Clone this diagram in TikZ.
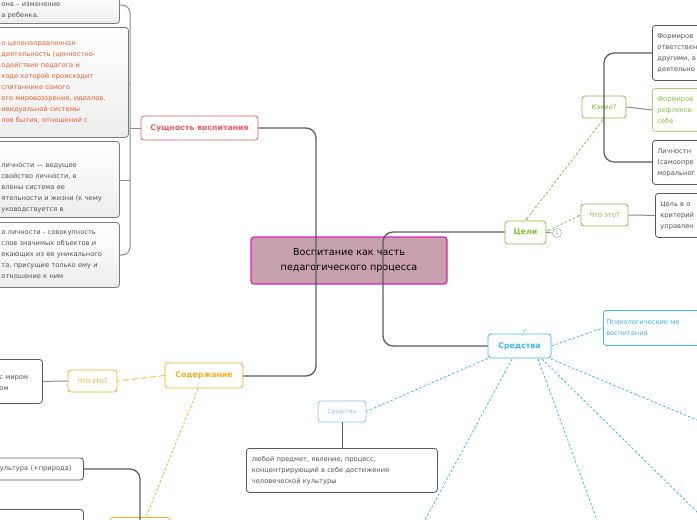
\documentclass[tikz,border=0pt]{standalone}
\usepackage{fontspec}
\setmainfont{DejaVu Sans}
\usetikzlibrary{arrows.meta}
\definecolor{cred}{HTML}{F05A5A}
\definecolor{corg}{HTML}{E8602C}
\definecolor{cgreen}{HTML}{86BE3C}
\definecolor{cblue}{HTML}{3DB5EE}
\definecolor{clblue}{HTML}{8EC4E8}
\definecolor{cyel}{HTML}{F8AE1E}
\definecolor{cmag}{HTML}{E020B8}
\definecolor{cfill}{HTML}{C6A0AC}
\definecolor{cline}{HTML}{565B61}
\definecolor{ctext}{HTML}{505458}
\tikzset{
  every node/.style={font=\fontsize{6.7}{11}\selectfont},
  gbox/.style={draw=cline!80, line width=0.8pt, rounded corners=3pt, top color=white, bottom color=gray!14, anchor=north west, align=left, inner ysep=2pt, text=ctext},
  wbox/.style={draw=cline, line width=0.8pt, rounded corners=3pt, fill=white, anchor=north west, align=left, inner ysep=2pt, text=ctext},
  tbox/.style={draw=#1, line width=0.8pt, rounded corners=3pt, fill=white, text=#1, inner sep=1pt},
  trunk/.style={draw=cline, line width=1.3pt, rounded corners=10pt},
  thin/.style={draw=cline!70, line width=1pt, rounded corners=8pt},
  dsh/.style={draw=#1, line width=0.8pt, dash pattern=on 2.5pt off 2pt},
}
\begin{document}
\begin{tikzpicture}[x=1pt,y=-1pt]
\useasboundingbox (0,0) rectangle (697,520);
% central
\node[draw=cmag, line width=1.2pt, fill=cfill, rounded corners=3pt, minimum width=196pt, minimum height=47pt, align=center, font=\fontsize{9.6}{15}\selectfont] (c) at (349,260.5) {Воспитание как часть\\педагогического процесса};
% trunks
\draw[trunk] (258,128) -- (316,128) -- (316,376) -- (243,376);
\draw[trunk] (505,232) -- (383,232) -- (383,346) -- (488,346);
% Сущность
\node[tbox=cred, minimum width=117pt, minimum height=24pt, font=\fontsize{7.8}{9}\selectfont\bfseries] (s) at (199.5,128) {Сущность воспитания};
% left boxes
\node[gbox, minimum width=139pt, minimum height=30pt, inner xsep=21pt, text width=97pt] (l1) at (-20,-7) {\\[-2pt]она – изменение\\а ребенка.};
\node[gbox, minimum width=148pt, minimum height=110pt, inner xsep=21pt, text width=106pt, text=corg] (l2) at (-20,27) {о целенаправленная\\деятельность (ценностно-\\одействие педагога и\\ ходе которой происходит\\спитаннике самого\\его мировоззрения, идеалов,\\ивидуальной системы\\лов бытия, отношений с\\ };
\node[gbox, minimum width=139pt, minimum height=76pt, inner xsep=21pt, text width=97pt, text depth=0pt] (l3) at (-20,141) {\parbox{130pt}{личности — ведущее\\ свойство личности, в\\влены система ее\\ятельности и  жизни (к чему\\уководствуется в\\ }};
\node[gbox, minimum width=139pt, minimum height=65pt, inner xsep=21pt, text width=97pt] (l4) at (-20,222) {\parbox{130pt}{а личности - совокупность\\слов значимых объектов и\\екающих из ее уникального\\та, присущие только ему и\\ отношение к ним}};
\draw[thin] (119,5) -- (130,5) -- (130,255) -- (119,255);
\draw[thin] (128,83) -- (130,83);
\draw[thin] (119,180) -- (130,180);
\draw[thin] (130,128) -- (141,128);
% Цели
\node[tbox=cgreen, minimum width=41pt, minimum height=23pt, font=\fontsize{7.8}{9}\selectfont\bfseries] (g) at (525.5,232.5) {Цели};
\node[draw=gray!60, circle, line width=0.6pt, inner sep=0pt, minimum size=9pt, text=gray, font=\fontsize{4.5}{5}\selectfont] (n1) at (557,233) {1};
\draw[cline, line width=0.6pt] (g.east) -- (n1.west);
\node[tbox=cgreen, minimum width=47pt, minimum height=22pt] (q1) at (604.5,215) {Что это?};
\node[tbox=cgreen, minimum width=44pt, minimum height=22pt] (k) at (604,107) {Какие?};
\draw[dsh=cgreen, {Latex[length=2.5pt]}-{Latex[length=2.5pt]}] (g.north) -- (k.south);
\draw[dsh=cgreen, {Latex[length=2.5pt]}-{Latex[length=2.5pt]}] (g.east) ++(0,-1) -- (q1.west);
\draw[trunk, line width=1.2pt] (652,53) -- (604,53) -- (604,162) -- (652,162);
\draw[thin] (k.east) -- (652,110);
\node[wbox, minimum width=60pt, minimum height=55pt, text width=50pt] (r1) at (652,25) {Формиров\\ответствен\\другими, а\\деятельно};
\node[wbox, draw=cgreen!70, text=cgreen, minimum width=60pt, minimum height=43pt, text width=50pt] (r2) at (652,88) {Формиров\\рефлекси\\себе};
\node[wbox, minimum width=60pt, minimum height=44pt, text width=50pt] (r3) at (652,140) {Личностн\\(самоопре\\моральног};
\node[wbox, minimum width=60pt, minimum height=44pt, text width=50pt] (r4) at (655,193) {Цель в о\\критерий\\управлен};
\draw[thin] (q1.east) -- (r4.west);
% Средства
\node[tbox=cblue, minimum width=63pt, minimum height=24pt, font=\fontsize{7.8}{9}\selectfont\bfseries] (m) at (519.5,346) {Средства};
\draw[cblue, line width=0.6pt] (523,332) -- (526,329);
\node[tbox=cblue, minimum width=97pt, minimum height=35pt, align=left, text width=91pt, anchor=north west] (p) at (603,310) {Психологические ме\\воспитания};
\draw[dsh=cblue] (m.east) -- (p.west);
\node[tbox=clblue, minimum width=48pt, minimum height=21pt, font=\fontsize{5.8}{7}\selectfont] (ms) at (342,411.5) {Средства};
\draw[dsh=cblue] (m.south west) -- (ms.east);
\coordinate (e1) at (425,520); \coordinate (e2) at (597,520);
\coordinate (e3) at (697,512); \coordinate (e4) at (697,420);
\draw[dsh=cblue] (512,359) -- (e1);
\draw[dsh=cblue] (538,359) -- (e2);
\draw[dsh=cblue] (542,359) -- (e3);
\draw[dsh=cblue] (551,359) -- (e4);
\node[wbox, minimum width=191pt, minimum height=44pt, text width=180pt] (d) at (246,448) {любой предмет, явление, процесс,\\концентрирующий в себе достижения\\человеческой культуры};
\draw[cline, line width=1pt] (ms.south) -- (d.north -| ms.south);
% Содержание
\node[tbox=cyel, minimum width=78pt, minimum height=25pt, font=\fontsize{7.8}{9}\selectfont\bfseries] (sd) at (204,375.5) {Содержание};
\node[tbox=cyel, minimum width=49pt, minimum height=22pt] (q2) at (92.5,381) {Что это?};
\draw[dsh=cyel, dash pattern=on 6pt off 3pt] (sd.west) -- (q2.east);
\node[wbox, minimum width=62pt, minimum height=44pt, text width=50pt, inner xsep=4pt] (lw) at (-20,359) {\\[-3pt]\hspace*{13pt}с миром\\\hspace*{13pt}ом};
\draw[thin] (lw.east) -- (q2.west);
\node[wbox, minimum width=103pt, minimum height=22pt, text width=90pt, anchor=west] (k1) at (-20,469) {\hspace*{13pt}ультура (+природа)};
\node[wbox, minimum width=103pt, minimum height=22pt, anchor=north west] (k2) at (-20,509) {};
\node[tbox=cyel, minimum width=60pt, minimum height=20pt, anchor=north west] (bo) at (110,517) {};
\draw[trunk, line width=1.2pt] (k1.east) -- (140,469) -- (140,525);
\draw[dsh=cyel] (sd.south) ++(-6,0) -- (146,517);
\end{tikzpicture}
\end{document}
